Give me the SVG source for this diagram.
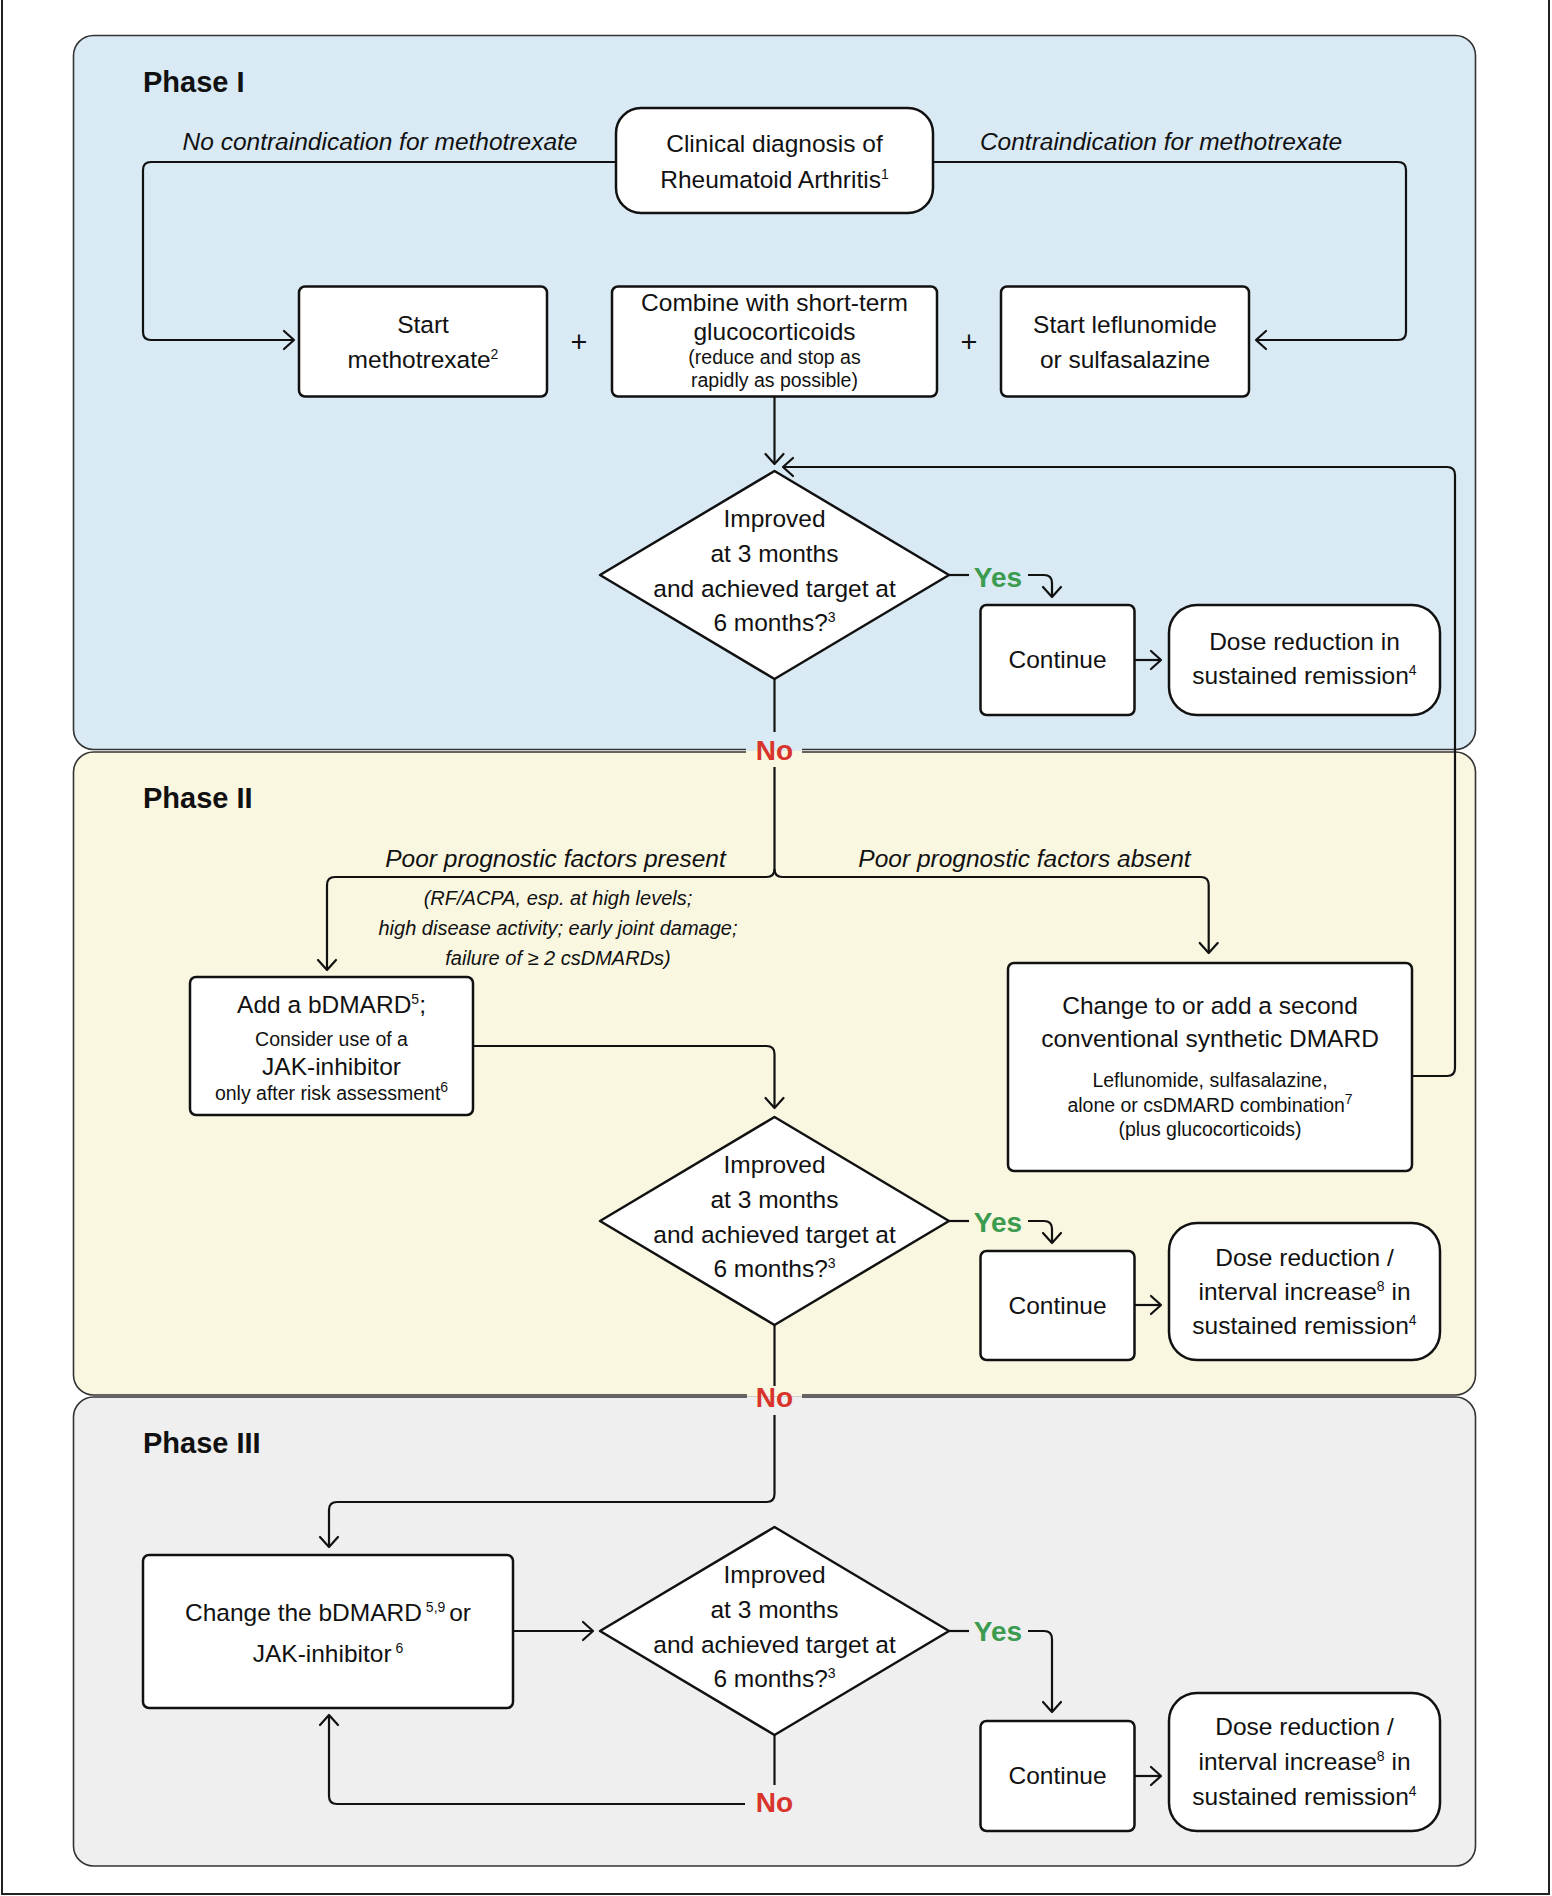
<svg xmlns="http://www.w3.org/2000/svg" width="1552" height="1896" viewBox="0 0 1552 1896">
<defs>
<style>
text{font-family:"Liberation Sans",Arial,Helvetica,sans-serif;fill:#111;}
.m{font-size:24.5px;text-anchor:middle;}
.s{font-size:19.5px;text-anchor:middle;}
.it{font-size:24.5px;font-style:italic;text-anchor:middle;}
.its{font-size:20px;font-style:italic;text-anchor:middle;}
.ph{font-size:29px;font-weight:bold;}
.plus{font-size:29px;text-anchor:middle;}
.yes{font-size:28px;font-weight:bold;fill:#3b9b4f;text-anchor:middle;}
.no{font-size:28px;font-weight:bold;fill:#d8342c;text-anchor:middle;}
.sup{font-size:14px;}
.box{fill:#fff;stroke:#111;stroke-width:2.5;}
.panel{stroke:#333;stroke-width:1.6;}
.c{fill:none;stroke:#111;stroke-width:2.2;}
.a{fill:none;stroke:#111;stroke-width:2.2;marker-end:url(#ah);}
</style>
<marker id="ah" viewBox="-12 -11 14 22" refX="0" refY="0" markerWidth="14" markerHeight="22" markerUnits="userSpaceOnUse" orient="auto">
<path d="M-10,-9 L0,0 L-10,9" fill="none" stroke="#111" stroke-width="2.2" stroke-linecap="round" stroke-linejoin="round"/>
</marker>
</defs>

<rect x="0" y="0" width="1552" height="1896" fill="#fff"/>
<path d="M2,0 V1894 H1549 V0" fill="none" stroke="#222" stroke-width="2"/>

<g id="phase1-panel">
<rect class="panel" x="73.5" y="35.5" width="1402" height="714" rx="20" fill="#d9eaf5"/>
<text class="ph" x="143" y="92">Phase I</text>
</g>
<g id="phase2-panel">
<rect class="panel" x="73.5" y="752" width="1402" height="643" rx="20" fill="#faf7e1"/>
<text class="ph" x="143" y="808">Phase II</text>
</g>
<g id="phase3-panel">
<rect class="panel" x="73.5" y="1397" width="1402" height="469" rx="20" fill="#efefef"/>
<text class="ph" x="143" y="1453">Phase III</text>
</g>

<g id="connectors">
<path class="a" d="M616,162 H151 Q143,162 143,170 V332 Q143,340 151,340 H294"/>
<path class="a" d="M933,162 H1398 Q1406,162 1406,170 V332 Q1406,340 1398,340 H1256"/>
<path class="a" d="M774.5,397 V464"/>
<path class="a" d="M1412,1076 H1447 Q1455,1076 1455,1068 V475 Q1455,467 1447,467 H783"/>
<path class="c" d="M949,575 H969"/>
<path class="a" d="M1028,575 H1044 Q1052,575 1052,583 V597"/>
<path class="a" d="M1135,660 H1161"/>
<path class="c" d="M774.5,679 V732"/>
<path class="a" d="M774.5,767 V869 Q774.5,877 766.5,877 H335 Q327,877 327,885 V970"/>
<path class="a" d="M774.5,869 Q774.5,877 782.5,877 H1200.7 Q1208.7,877 1208.7,885 V953"/>
<path class="a" d="M473,1046 H766.5 Q774.5,1046 774.5,1054 V1108"/>
<path class="c" d="M949,1221 H969"/>
<path class="a" d="M1028,1221 H1044 Q1052,1221 1052,1229 V1243"/>
<path class="a" d="M1135,1305 H1161"/>
<path class="c" d="M774.5,1325 V1387"/>
<path class="a" d="M774.5,1415 V1494 Q774.5,1502 766.5,1502 H337 Q329,1502 329,1510 V1547"/>
<path class="a" d="M513,1631 H593"/>
<path class="c" d="M949,1631 H969"/>
<path class="a" d="M1028,1631 H1044 Q1052,1631 1052,1639 V1712"/>
<path class="a" d="M1135,1776 H1161"/>
<path class="c" d="M774.5,1735 V1785"/>
<path class="a" d="M745,1804 H337 Q329,1804 329,1796 V1715"/>
<text class="it" x="380" y="150">No contraindication for methotrexate</text>
<text class="it" x="1161" y="150">Contraindication for methotrexate</text>
<text class="it" x="555.5" y="867">Poor prognostic factors present</text>
<text class="it" x="1024.5" y="867">Poor prognostic factors absent</text>
<text class="its" x="558" y="905">(RF/ACPA, esp. at high levels;</text>
<text class="its" x="558" y="935">high disease activity; early joint damage;</text>
<text class="its" x="558" y="965">failure of ≥ 2 csDMARDs)</text>
<text class="plus" x="579" y="352">+</text>
<text class="plus" x="969" y="352">+</text>
<text class="yes" x="998" y="587">Yes</text>
<text class="yes" x="998" y="1232">Yes</text>
<text class="yes" x="998" y="1641">Yes</text>
<rect x="746" y="741" width="56" height="9.5" fill="#d9eaf5"/>
<rect x="746" y="750.5" width="56" height="10" fill="#faf7e1"/>
<text class="no" x="774.5" y="760">No</text>
<rect x="747" y="1386" width="55" height="10.5" fill="#faf7e1"/>
<rect x="747" y="1396.5" width="55" height="10" fill="#efefef"/>
<text class="no" x="774.5" y="1407">No</text>
<text class="no" x="774.5" y="1812">No</text>
</g>

<g id="n-diagnosis">
<rect class="box" x="616" y="108" width="317" height="105" rx="25"/>
<text class="m" x="774.5" y="152">Clinical diagnosis of</text>
<text class="m" x="774.5" y="188">Rheumatoid Arthritis<tspan class="sup" dy="-9">1</tspan></text>
</g>
<g id="n-mtx">
<rect class="box" x="299" y="286.5" width="248" height="110" rx="6"/>
<text class="m" x="423" y="333">Start</text>
<text class="m" x="423" y="368">methotrexate<tspan class="sup" dy="-9">2</tspan></text>
</g>
<g id="n-gc">
<rect class="box" x="612" y="286.5" width="325" height="110" rx="6"/>
<text class="m" x="774.5" y="311">Combine with short-term</text>
<text class="m" x="774.5" y="340">glucocorticoids</text>
<text class="s" x="774.5" y="364">(reduce and stop as</text>
<text class="s" x="774.5" y="387">rapidly as possible)</text>
</g>
<g id="n-lef">
<rect class="box" x="1001" y="286.5" width="248" height="110" rx="6"/>
<text class="m" x="1125" y="333">Start leflunomide</text>
<text class="m" x="1125" y="368">or sulfasalazine</text>
</g>
<g id="n-dec1">
<polygon class="box" stroke-linejoin="round" points="774.5,471 949,575 774.5,679 600,575"/>
<text class="m" x="774.5" y="527">Improved</text>
<text class="m" x="774.5" y="562">at 3 months</text>
<text class="m" x="774.5" y="597">and achieved target at</text>
<text class="m" x="774.5" y="631">6 months?<tspan class="sup" dy="-9">3</tspan></text>
</g>
<g id="n-cont1">
<rect class="box" x="980.5" y="605" width="154" height="110" rx="6"/>
<text class="m" x="1057.5" y="668">Continue</text>
</g>
<g id="n-dose1">
<rect class="box" x="1169" y="605" width="271" height="110" rx="28"/>
<text class="m" x="1304.5" y="650">Dose reduction in</text>
<text class="m" x="1304.5" y="684">sustained remission<tspan class="sup" dy="-9">4</tspan></text>
</g>

<g id="n-bdmard">
<rect class="box" x="190" y="977" width="283" height="138" rx="6"/>
<text class="m" x="331.5" y="1013">Add a bDMARD<tspan class="sup" dy="-9">5</tspan><tspan dy="9">;</tspan></text>
<text class="s" x="331.5" y="1046">Consider use of a</text>
<text class="m" x="331.5" y="1075">JAK-inhibitor</text>
<text class="s" x="331.5" y="1100">only after risk assessment<tspan class="sup" dy="-8">6</tspan></text>
</g>
<g id="n-csdmard">
<rect class="box" x="1008" y="963" width="404" height="208" rx="6"/>
<text class="m" x="1210" y="1014">Change to or add a second</text>
<text class="m" x="1210" y="1047">conventional synthetic DMARD</text>
<text class="s" x="1210" y="1087">Leflunomide, sulfasalazine,</text>
<text class="s" x="1210" y="1112">alone or csDMARD combination<tspan class="sup" dy="-8">7</tspan></text>
<text class="s" x="1210" y="1136">(plus glucocorticoids)</text>
</g>
<g id="n-dec2">
<polygon class="box" stroke-linejoin="round" points="774.5,1117 949,1221 774.5,1325 600,1221"/>
<text class="m" x="774.5" y="1173">Improved</text>
<text class="m" x="774.5" y="1208">at 3 months</text>
<text class="m" x="774.5" y="1243">and achieved target at</text>
<text class="m" x="774.5" y="1277">6 months?<tspan class="sup" dy="-9">3</tspan></text>
</g>
<g id="n-cont2">
<rect class="box" x="980.5" y="1251" width="154" height="109" rx="6"/>
<text class="m" x="1057.5" y="1314">Continue</text>
</g>
<g id="n-dose2">
<rect class="box" x="1169" y="1223" width="271" height="137" rx="28"/>
<text class="m" x="1304.5" y="1266">Dose reduction /</text>
<text class="m" x="1304.5" y="1300">interval increase<tspan class="sup" dy="-9">8</tspan><tspan dy="9"> in</tspan></text>
<text class="m" x="1304.5" y="1334">sustained remission<tspan class="sup" dy="-9">4</tspan></text>
</g>

<g id="n-change">
<rect class="box" x="143" y="1555" width="370" height="153" rx="6"/>
<text class="m" x="328" y="1621">Change the bDMARD<tspan class="sup" dy="-9"> 5,9 </tspan><tspan dy="9">or</tspan></text>
<text class="m" x="328" y="1662">JAK-inhibitor<tspan class="sup" dy="-9"> 6</tspan></text>
</g>
<g id="n-dec3">
<polygon class="box" stroke-linejoin="round" points="774.5,1527 949,1631 774.5,1735 600,1631"/>
<text class="m" x="774.5" y="1583">Improved</text>
<text class="m" x="774.5" y="1618">at 3 months</text>
<text class="m" x="774.5" y="1653">and achieved target at</text>
<text class="m" x="774.5" y="1687">6 months?<tspan class="sup" dy="-9">3</tspan></text>
</g>
<g id="n-cont3">
<rect class="box" x="980.5" y="1721" width="154" height="110" rx="6"/>
<text class="m" x="1057.5" y="1784">Continue</text>
</g>
<g id="n-dose3">
<rect class="box" x="1169" y="1693" width="271" height="138" rx="28"/>
<text class="m" x="1304.5" y="1735">Dose reduction /</text>
<text class="m" x="1304.5" y="1770">interval increase<tspan class="sup" dy="-9">8</tspan><tspan dy="9"> in</tspan></text>
<text class="m" x="1304.5" y="1805">sustained remission<tspan class="sup" dy="-9">4</tspan></text>
</g>
</svg>
